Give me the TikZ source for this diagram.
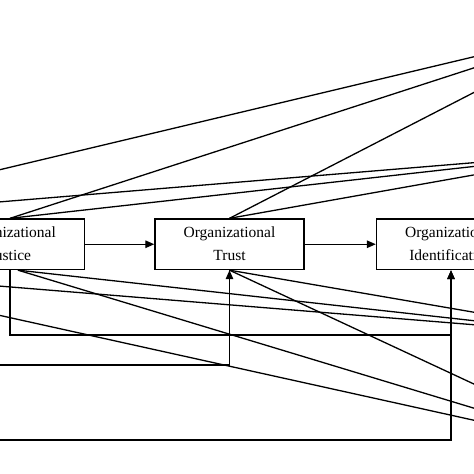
\documentclass[tikz,border=0pt]{standalone}
\usepackage{fontspec}
\setmainfont{Liberation Serif}
\usetikzlibrary{arrows.meta}
\begin{document}
\begin{tikzpicture}[x=1pt,y=-1pt,
  box/.style={draw, line width=1.35pt, minimum width=149pt, minimum height=50.5pt, inner sep=0pt},
  lbl/.style={anchor=base, inner sep=0pt, font=\fontsize{15.5}{18}\selectfont},
  link/.style={line width=1.3pt},
  arr/.style={line width=1.3pt, -{Triangle[length=9pt,width=7.5pt]}}]
\useasboundingbox (0,0) rectangle (474,474);
\clip (0,0) rectangle (474,474);
% boxes
\node[box] (J) at (10,244.25) {};
\node[box] (T) at (229.5,244.25) {};
\node[box] (I) at (451,244.25) {};
\node[lbl] (J1) at (10,237.5) {Organizational};
\node[lbl] (J2) at (10,260.5) {Justice};
\node[lbl] (T1) at (229.5,237.5) {Organizational};
\node[lbl] (T2) at (229.5,260.5) {Trust};
\node[lbl] (I1) at (451,237.5) {Organizational};
\node[lbl] (I2) at (451,260.5) {Identification};
% off-picture end points
\coordinate (P1) at (603,26);
\coordinate (P2) at (603,152);
\coordinate (P3) at (612,336);
\coordinate (P4) at (622,453);
\coordinate (L0t) at (-207,219);
\coordinate (L0b) at (-210,269);
\coordinate (Js) at ([xshift=8pt]J.south);
\coordinate (jturn) at (10,335);
\coordinate (h1) at (-5,365);
\coordinate (h2) at (-5,440);
% chain arrows
\draw[arr] (J.east) -- (T.west);
\draw[arr] (T.east) -- (I.west);
% upper lines
\draw[link] (L0t) -- (P1);
\draw[link] (L0t) -- (P2);
\draw[link] (J.north) -- (P1);
\draw[link] (J.north) -- (P2);
\draw[link] (T.north) -- (P1);
\draw[link] (T.north) -- (P2);
% lower lines
\draw[link] (L0b) -- (P3);
\draw[link] (L0b) -- (P4);
\draw[link] (Js) -- (P3);
\draw[link] (Js) -- (P4);
\draw[link] (T.south) -- (P3);
\draw[link] (T.south) -- (P4);
% elbow connectors
\draw[arr] (J.south) -- (jturn) -| (I.south);
\draw[arr] (h1) -| (T.south);
\draw[arr] (h2) -| (I.south);
\end{tikzpicture}
\end{document}
